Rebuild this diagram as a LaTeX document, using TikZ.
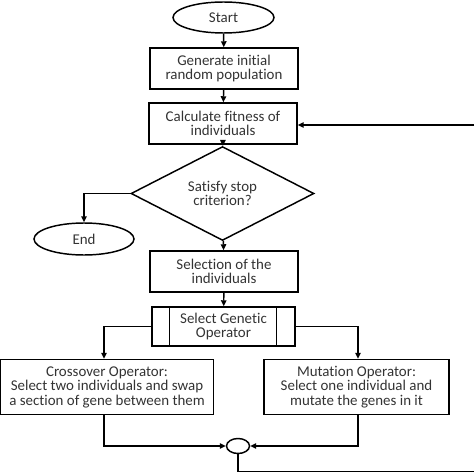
\documentclass[tikz,border=0pt]{standalone}
\usepackage{fontspec}
\setmainfont{Carlito}[Ligatures=NoCommon]
\usetikzlibrary{shapes.geometric,arrows.meta}

\tikzset{every picture/.style={line width=1.1pt}}
\tikzset{
  flowtxt/.style={font=\fontsize{11.2}{10.9}\selectfont, text=black!80, align=center, inner sep=0.75pt},
  terminal/.style={flowtxt, draw, ellipse},
  process/.style={flowtxt, draw, rectangle},
  decision/.style={flowtxt, draw, diamond},
  flowarrow/.style={-{Triangle[length=4.5pt,width=4pt]}}
}

\begin{document}
\begin{tikzpicture}[x=0.75pt,y=0.75pt,yscale=-1,xscale=1]
\useasboundingbox (0,0) rectangle (474,474);

%Shape: Ellipse [id:start]
\node [terminal, minimum width=101*0.75pt, minimum height=31*0.75pt] (start) at (223.5,17.5) {Start};
%Shape: Rectangle [id:generate]
\node [process, minimum width=148*0.75pt, minimum height=41*0.75pt] (generate) at (224,68.5) {Generate initial\\random population};
%Shape: Rectangle [id:fitness]
\node [process, minimum width=148*0.75pt, minimum height=41*0.75pt] (fitness) at (223,123.5) {Calculate fitness of\\individuals};
%Shape: Diamond [id:stop]
\node [decision, inner sep=0pt, minimum width=183*0.75pt, minimum height=73*0.75pt] (stop) at (222.5,193.5) {Satisfy stop\\criterion?};
%Shape: Ellipse [id:end]
\node [terminal, minimum width=100*0.75pt, minimum height=32*0.75pt] (end) at (84,239) {End};
%Shape: Rectangle [id:selection]
\node [process, minimum width=148*0.75pt, minimum height=41*0.75pt] (selection) at (224,271.5) {Selection of the\\individuals};
%Shape: Predefined process [id:operator]
\node [process, minimum width=143*0.75pt, minimum height=39*0.75pt] (operator) at (223.5,326.5) {Select Genetic\\Operator};
\draw ([xshift=18*0.75pt]operator.north west) -- ([xshift=18*0.75pt]operator.south west);
\draw ([xshift=-19*0.75pt]operator.north east) -- ([xshift=-19*0.75pt]operator.south east);
%Shape: Rectangle [id:crossover]
\node [process, minimum width=213*0.75pt, minimum height=55*0.75pt] (crossover) at (107,387) {Crossover Operator:\\Select two individuals and swap\\a section of gene between them};
%Shape: Rectangle [id:mutation]
\node [process, minimum width=185*0.75pt, minimum height=55*0.75pt] (mutation) at (356.5,387) {Mutation Operator:\\Select one individual and\\mutate the genes in it};
%Shape: Ellipse [id:join]
\node [draw, ellipse, inner sep=0pt, minimum width=23*0.75pt, minimum height=15*0.75pt] (join) at (238,446) {};

%Coordinates of the feedback loop at the edge
\coordinate (loopout) at (474,471.5);
\coordinate (loopin) at (474,125);

%Straight Lines
\draw [flowarrow] (start) -- (generate);
\draw [flowarrow] (generate) -- (fitness);
\draw [flowarrow] (fitness) -- (stop);
\draw [flowarrow] (stop.west) -| (end.north);
\draw [flowarrow] (stop) -- (selection);
\draw [flowarrow] (selection) -- (operator);
\draw [flowarrow] (operator.west) -| ([xshift=-3*0.75pt]crossover.north);
\draw [flowarrow] (operator.east) -| ([xshift=1.5*0.75pt]mutation.north);
\draw [flowarrow] ([xshift=-3*0.75pt]crossover.south) |- (join.west);
\draw [flowarrow] ([xshift=1.5*0.75pt]mutation.south) |- (join.east);
\draw (join.south) |- (loopout);
\draw [flowarrow] (loopin) -- (loopin -| fitness.east);

\end{tikzpicture}
\end{document}
